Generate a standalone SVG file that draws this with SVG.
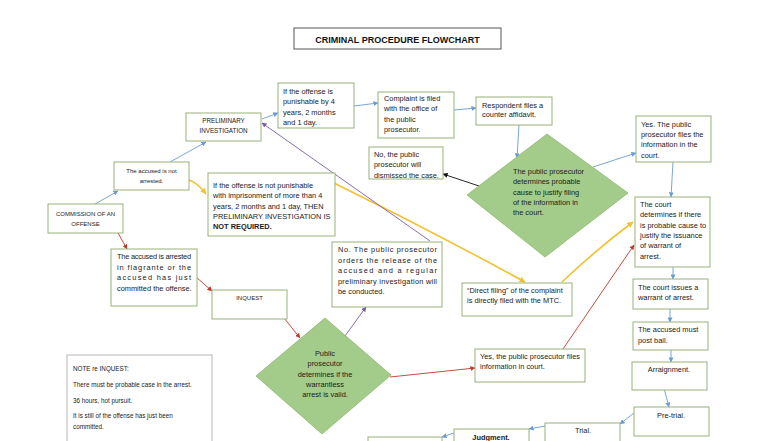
<svg xmlns="http://www.w3.org/2000/svg" width="784" height="441" viewBox="0 0 784 441">
<defs>
<style>
.box{fill:#ffffff;stroke:#98b27a;stroke-width:1}
.dia{fill:#a3cc8a;stroke:#8fb874;stroke-width:0.8}
.t{font-family:"Liberation Sans",Arial,sans-serif;font-size:7.4px;fill:#1a1a1a}
.s{font-family:"Liberation Sans",Arial,sans-serif;font-size:6px;fill:#1a1a1a}
.n{font-family:"Liberation Sans",Arial,sans-serif;font-size:6.3px;fill:#1a1a1a}
.c{text-anchor:middle}
.blue{stroke:#6b9bd1;stroke-width:0.9;fill:none;marker-end:url(#ab)}
.red{stroke:#c0392b;stroke-width:0.9;fill:none;marker-end:url(#ar)}
.yel{stroke:#f2c12e;stroke-width:1.6;fill:none;marker-end:url(#ay)}
.pur{stroke:#7b5ea7;stroke-width:0.9;fill:none;marker-end:url(#ap)}
.blk{stroke:#111111;stroke-width:0.9;fill:none;marker-end:url(#ak)}
</style>
<marker id="ab" viewBox="0 0 6 6" refX="5.5" refY="3" markerWidth="5" markerHeight="5" markerUnits="userSpaceOnUse" orient="auto"><path d="M0,0 L6,3 L0,6 z" fill="#6b9bd1"/></marker>
<marker id="ar" viewBox="0 0 6 6" refX="5.5" refY="3" markerWidth="5" markerHeight="5" markerUnits="userSpaceOnUse" orient="auto"><path d="M0,0 L6,3 L0,6 z" fill="#c0392b"/></marker>
<marker id="ay" viewBox="0 0 6 6" refX="5.5" refY="3" markerWidth="6" markerHeight="6" markerUnits="userSpaceOnUse" orient="auto"><path d="M0,0 L6,3 L0,6 z" fill="#f2c12e"/></marker>
<marker id="ap" viewBox="0 0 6 6" refX="5.5" refY="3" markerWidth="5" markerHeight="5" markerUnits="userSpaceOnUse" orient="auto"><path d="M0,0 L6,3 L0,6 z" fill="#7b5ea7"/></marker>
<marker id="ak" viewBox="0 0 6 6" refX="5.5" refY="3" markerWidth="5" markerHeight="5" markerUnits="userSpaceOnUse" orient="auto"><path d="M0,0 L6,3 L0,6 z" fill="#111111"/></marker>
</defs>
<rect width="784" height="441" fill="#ffffff"/>

<g id="title">
<rect x="294" y="28" width="207" height="21" fill="#ffffff" stroke="#555555" stroke-width="1"/>
<text x="397.5" y="42.5" class="c" font-family="Liberation Sans,Arial,sans-serif" font-size="9" font-weight="bold" fill="#111">CRIMINAL PROCEDURE FLOWCHART</text>
</g>

<g id="connectors">
<line class="blue" x1="95" y1="204" x2="118" y2="191"/>
<line class="blue" x1="170" y1="162" x2="206" y2="142"/>
<line class="blue" x1="262" y1="119" x2="278" y2="113"/>
<line class="blue" x1="354" y1="106" x2="378" y2="103"/>
<line class="blue" x1="454" y1="110" x2="476" y2="108"/>
<line class="blue" x1="519" y1="125" x2="517" y2="158"/>
<line class="blue" x1="593" y1="167" x2="636" y2="153"/>
<line class="blue" x1="673" y1="162" x2="671" y2="197"/>
<line class="blue" x1="673" y1="267" x2="673" y2="279"/>
<line class="blue" x1="670" y1="309" x2="670" y2="322"/>
<line class="blue" x1="671" y1="350" x2="671" y2="362"/>
<line class="blue" x1="664" y1="388" x2="669" y2="407"/>
<line class="blue" x1="634" y1="413" x2="620" y2="424"/>
<line class="blue" x1="545" y1="426" x2="529" y2="429"/>
<line class="blue" x1="454" y1="433" x2="442" y2="437"/>
<line class="red" x1="118" y1="233" x2="127" y2="249"/>
<line class="red" x1="196" y1="277" x2="212" y2="291"/>
<line class="red" x1="284" y1="318" x2="300" y2="338"/>
<line class="red" x1="390" y1="377" x2="475" y2="368"/>
<line class="red" x1="563" y1="349" x2="634" y2="245"/>
<path class="yel" d="M189,180 Q198,183 206,194"/>
<path class="yel" d="M334,183 Q430,230 525,282"/>
<path class="yel" d="M562,282 Q598,248 633,222"/>
<line class="pur" x1="430" y1="241" x2="262" y2="123"/>
<line class="pur" x1="345" y1="336" x2="366" y2="307"/>
<line class="blk" x1="482" y1="187" x2="443" y2="174"/>
</g>

<g id="commission">
<rect class="box" x="48" y="204" width="75" height="29"/>
<text class="s c" x="85.5" y="216">COMMISSION OF AN</text>
<text class="s c" x="85.5" y="226">OFFENSE</text>
</g>

<g id="not-arrested">
<rect class="box" x="114" y="162" width="75" height="28"/>
<text class="s c" x="151.5" y="173">The accused is not</text>
<text class="s c" x="151.5" y="183">arrested.</text>
</g>

<g id="preliminary">
<rect class="box" x="186" y="113" width="75" height="28"/>
<text class="c" x="223.5" y="123" font-family="Liberation Sans,Arial,sans-serif" font-size="6.3" fill="#1a1a1a">PRELIMINARY</text>
<text class="c" x="223.5" y="133" font-family="Liberation Sans,Arial,sans-serif" font-size="6.3" fill="#1a1a1a">INVESTIGATION</text>
</g>

<g id="punishable">
<rect class="box" x="278" y="83" width="76" height="45"/>
<text class="t" x="283" y="94">If the offense is</text>
<text class="t" x="283" y="104">punishable by 4</text>
<text class="t" x="283" y="114.5">years, 2 months</text>
<text class="t" x="283" y="124.5">and 1 day.</text>
</g>

<g id="not-punishable">
<rect class="box" x="208" y="173" width="127" height="63"/>
<text class="t" x="213" y="188">If the offense is not punishable</text>
<text class="t" x="213" y="198.3">with imprisonment of more than 4</text>
<text class="t" x="213" y="208.6">years, 2 months and 1 day, THEN</text>
<text class="t" x="213" y="218.9">PRELIMINARY INVESTIGATION IS</text>
<text class="t" x="213" y="229.2" font-weight="bold">NOT REQUIRED.</text>
</g>

<g id="complaint">
<rect class="box" x="378" y="92" width="76" height="46"/>
<text class="t" x="384" y="101">Complaint is filed</text>
<text class="t" x="384" y="111">with the office of</text>
<text class="t" x="384" y="121.5">the public</text>
<text class="t" x="384" y="132">prosecutor.</text>
</g>

<g id="respondent">
<rect class="box" x="476" y="97" width="76" height="28"/>
<text class="t" x="482" y="107.5">Respondent files a</text>
<text class="t" x="482" y="117">counter affidavit.</text>
</g>

<g id="dismissed">
<rect class="box" x="369" y="147" width="74" height="32"/>
<text class="t" x="374" y="157">No, the public</text>
<text class="t" x="374" y="167">prosecutor will</text>
<text class="t" x="374" y="177.5">dismissed the case.</text>
</g>

<g id="decision-filing">
<polygon class="dia" points="547,134 628,193 545,257 467,195"/>
<text class="t" x="513" y="174">The public prosecutor</text>
<text class="t" x="513" y="184.3">determines probable</text>
<text class="t" x="513" y="194.6">cause to justify filing</text>
<text class="t" x="513" y="204.9">of the information in</text>
<text class="t" x="513" y="215.2">the court.</text>
</g>

<g id="yes-files">
<rect class="box" x="636" y="116" width="75" height="46"/>
<text class="t" x="641" y="127">Yes. The public</text>
<text class="t" x="641" y="137">prosecutor files the</text>
<text class="t" x="641" y="147">information in the</text>
<text class="t" x="641" y="157.5">court.</text>
</g>

<g id="court-determines">
<rect class="box" x="635" y="197" width="75" height="70"/>
<text class="t" x="640" y="207">The court</text>
<text class="t" x="640" y="217.3">determines if there</text>
<text class="t" x="640" y="227.6">is probable cause to</text>
<text class="t" x="640" y="237.9">justify the issuance</text>
<text class="t" x="640" y="248.2">of warrant of</text>
<text class="t" x="640" y="258.5">arrest.</text>
</g>

<g id="court-issues">
<rect class="box" x="633" y="279" width="75" height="30"/>
<text class="t" x="638" y="289.5">The court issues a</text>
<text class="t" x="638" y="299.5">warrant of arrest.</text>
</g>

<g id="post-bail">
<rect class="box" x="633" y="322" width="75" height="28"/>
<text class="t" x="638" y="332">The accused must</text>
<text class="t" x="638" y="342.5">post bail.</text>
</g>

<g id="arraignment">
<rect class="box" x="632" y="362" width="75" height="28"/>
<text class="t c" x="669" y="371.5">Arraignment.</text>
</g>

<g id="pretrial">
<rect class="box" x="634" y="407" width="75" height="29"/>
<text class="t c" x="671" y="417.5">Pre-trial.</text>
</g>

<g id="trial">
<rect class="box" x="545" y="423" width="75" height="25"/>
<text class="t c" x="583" y="433">Trial.</text>
</g>

<g id="judgment">
<rect class="box" x="454" y="429" width="75" height="20"/>
<text class="t c" x="491" y="439.5" font-weight="bold">Judgment.</text>
</g>

<g id="next-box">
<rect class="box" x="368" y="437" width="74" height="10"/>
</g>

<g id="arrested">
<rect class="box" x="111" y="249" width="86" height="57"/>
<text class="t" x="117" y="259" textLength="74" lengthAdjust="spacing">The accused is arrested</text>
<text class="t" x="117" y="269.5" textLength="74" lengthAdjust="spacing">in flagrante or the</text>
<text class="t" x="117" y="280" textLength="74" lengthAdjust="spacing">accused has just</text>
<text class="t" x="117" y="290.5">committed the offense.</text>
</g>

<g id="inquest">
<rect class="box" x="212" y="290" width="75" height="29"/>
<text class="s c" x="249.5" y="300">INQUEST</text>
</g>

<g id="decision-warrantless">
<polygon class="dia" points="325,318 391,375 322,434 256,376"/>
<text class="t c" x="325" y="356">Public</text>
<text class="t c" x="325" y="366.3">prosecutor</text>
<text class="t c" x="325" y="376.6">determines if the</text>
<text class="t c" x="325" y="386.9">warrantless</text>
<text class="t c" x="325" y="397.2">arrest is valid.</text>
</g>

<g id="release">
<rect class="box" x="332" y="242" width="110" height="65"/>
<text class="t" x="338" y="252" textLength="99" lengthAdjust="spacing">No. The public prosecutor</text>
<text class="t" x="338" y="262.5" textLength="99" lengthAdjust="spacing">orders the release of the</text>
<text class="t" x="338" y="273" textLength="99" lengthAdjust="spacing">accused and a regular</text>
<text class="t" x="338" y="283.5" textLength="99" lengthAdjust="spacing">preliminary investigation will</text>
<text class="t" x="338" y="294">be conducted.</text>
</g>

<g id="direct-filing">
<rect class="box" x="462" y="283" width="110" height="33"/>
<text class="t" x="467" y="292.5">“Direct filing” of the complaint</text>
<text class="t" x="467" y="302.5">is directly filed with the MTC.</text>
</g>

<g id="yes-court">
<rect class="box" x="475" y="349" width="110" height="33"/>
<text class="t" x="480" y="358.5">Yes, the public prosecutor files</text>
<text class="t" x="480" y="369">information in court.</text>
</g>

<g id="note">
<rect x="67" y="355" width="145" height="92" fill="#ffffff" stroke="#b5b5b5" stroke-width="1"/>
<text class="n" x="73" y="371">NOTE re INQUEST:</text>
<text class="n" x="73" y="387">There must be probable case in the arrest.</text>
<text class="n" x="73" y="403">36 hours, hot pursuit.</text>
<text class="n" x="73" y="418">It is still of the offense has just been</text>
<text class="n" x="73" y="429">committed.</text>
</g>
</svg>
